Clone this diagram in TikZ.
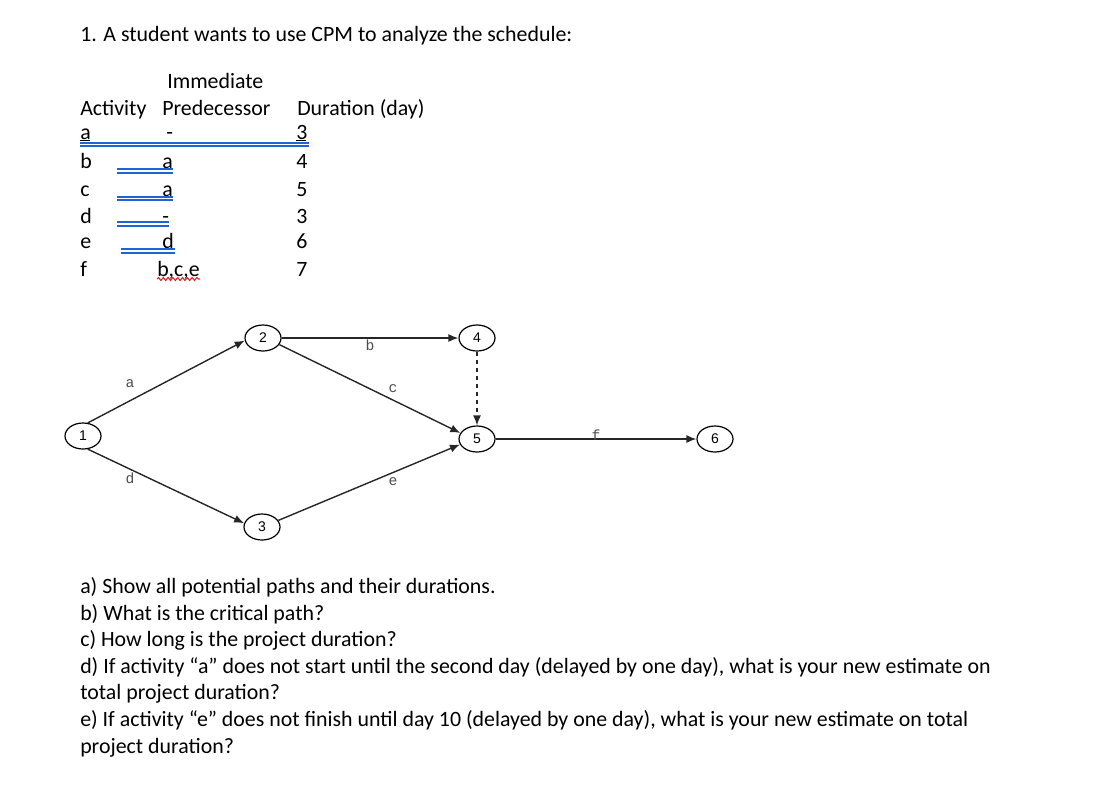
\documentclass[tikz,border=0pt]{standalone}
\usepackage{fontspec}
\setmainfont{Carlito}
\newfontfamily\netsans{Liberation Sans}
\newfontfamily\netmono{Liberation Mono}
\usetikzlibrary{arrows.meta,shapes.geometric,decorations.pathmorphing}
\definecolor{wordblue}{RGB}{33,98,214}
\definecolor{wordred}{RGB}{222,40,40}

\begin{document}
\begin{tikzpicture}[x=.75pt, y=-.75pt, font=\fontsize{16.4}{20}\selectfont,
	txt/.style={anchor=base west, inner sep=0pt},
	evt/.style={draw, ellipse, minimum width=27pt, minimum height=19.5pt, inner sep=0pt, line width=.9pt, font=\netsans\fontsize{10.5}{10.5}\selectfont},
	act/.style={-{Latex[length=7.5pt,width=6pt]}, line width=1.05pt, draw=black!85},
	lbl/.style={inner sep=0pt, text=black!70, font=\netmono\fontsize{11}{11}\selectfont},
	dbl/.style={draw=wordblue, line width=1.3pt, double=white, double distance=1.2pt}]
	\useasboundingbox (0,0) rectangle (1102,804);

	% title
	\node[txt] (title) at (80,41) {1. A student wants to use CPM to analyze the schedule:};

	% table
	\node[txt] (h1)  at (167,88)  {Immediate};
	\node[txt] (h2)  at (80,115)  {Activity};
	\node[txt] (h3)  at (162,115) {Predecessor};
	\node[txt] (h4)  at (297,115) {Duration (day)};
	\node[txt] (ra)  at (80,139)  {a};  \node[txt] (pa) at (166,139) {-};     \node[txt] (da) at (296,139) {3};
	\node[txt] (rb)  at (80,168)  {b};  \node[txt] (pb) at (162,168) {a};     \node[txt] (db) at (296,168) {4};
	\node[txt] (rc)  at (80,196)  {c};  \node[txt] (pc) at (162,196) {a};     \node[txt] (dc) at (296,196) {5};
	\node[txt] (rd)  at (80,223)  {d};  \node[txt] (pd) at (162,223) {-};     \node[txt] (dd) at (296,223) {3};
	\node[txt] (re)  at (80,248)  {e};  \node[txt] (pe) at (162,248) {d};     \node[txt] (de) at (296,248) {6};
	\node[txt] (rf)  at (80,276)  {f};  \node[txt] (pf) at (157,276) {b,c,e}; \node[txt] (df) at (296,276) {7};

	% editor marks
	\draw[line width=.7pt] (80,140.5) -- (90,140.5) (296,140.5) -- (306,140.5);
	\draw[dbl] (80,144.5) -- (309,144.5);
	\draw[dbl] (117,171) -- (173,171);
	\draw[dbl] (117,198.5) -- (173,198.5);
	\draw[dbl] (117,224) -- (169,224);
	\draw[dbl] (121,251) -- (175,251);
	\draw[wordred, line width=.8pt, decorate, decoration={snake, amplitude=1.1pt, segment length=3.6pt}] (157,279) -- (200,279);

	% network
	\node[evt] (n1) at (83,436)  {1};
	\node[evt] (n2) at (263,338) {2};
	\node[evt] (n3) at (262,527) {3};
	\node[evt] (n4) at (477,338) {4};
	\node[evt] (n5) at (477,439) {5};
	\node[evt] (n6) at (715,439) {6};

	\draw[act] (n1.70)  -- (n2.188);
	\draw[act] (n1.-70) -- (n3.168);
	\draw[act] (n2.east) -- (n4.west);
	\draw[act] (n2.-22) -- (n5.160);
	\draw[act] (n3.22)  -- (n5.198);
	\draw[act, dashed] (n4.south) -- (n5.north);
	\draw[act] (n5.east) -- (n6.west);

	\node[lbl] (la) at (130,384) {a};
	\node[lbl] (ld) at (130,478) {d};
	\node[lbl] (lb) at (370,345) {b};
	\node[lbl] (lc) at (393,389) {c};
	\node[lbl] (le) at (393,482) {e};
	\node[lbl] (lf) at (596,435) {f};

	% questions
	\node[txt] (qa)  at (80,593) {a) Show all potential paths and their durations.};
	\node[txt] (qb)  at (80,620) {b) What is the critical path?};
	\node[txt] (qc)  at (80,646) {c) How long is the project duration?};
	\node[txt] (qd1) at (80,673) {d) If activity “a” does not start until the second day (delayed by one day), what is your new estimate on};
	\node[txt] (qd2) at (80,699) {total project duration?};
	\node[txt] (qe1) at (80,726) {e) If activity “e” does not finish until day 10 (delayed by one day), what is your new estimate on total};
	\node[txt] (qe2) at (80,753) {project duration?};
\end{tikzpicture}
\end{document}
